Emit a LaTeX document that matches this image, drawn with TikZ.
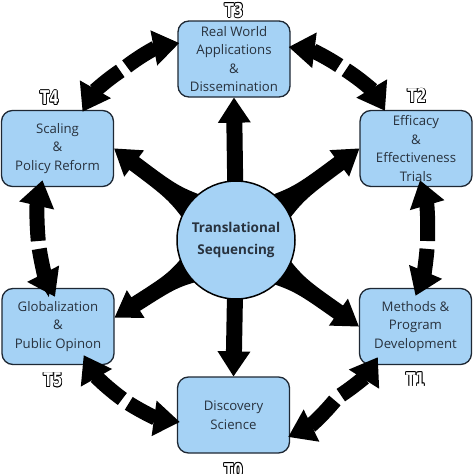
\documentclass[tikz,border=0pt]{standalone}
\usepackage{fontspec}
\setmainfont{Open Sans}
\newfontfamily\tfont{DejaVu Sans}[FakeStretch=0.72]
\usetikzlibrary{arrows.meta,calc}
\pgfdeclarelayer{bg}
\pgfsetlayers{bg,main}
\definecolor{boxblue}{RGB}{165,210,245}
\definecolor{txt}{RGB}{40,50,62}
\definecolor{edge}{RGB}{30,40,52}
\newcommand\olt[1]{{\tfont\bfseries\setbox0\hbox{#1}%
 \rlap{\color{black}\kern-.8pt\copy0}%
 \rlap{\color{black}\kern.8pt\copy0}%
 \rlap{\color{black}\raise.8pt\copy0}%
 \rlap{\color{black}\lower.8pt\copy0}%
 \rlap{\color{black}\kern-.6pt\raise.6pt\copy0}%
 \rlap{\color{black}\kern.6pt\raise.6pt\copy0}%
 \rlap{\color{black}\kern-.6pt\lower.6pt\copy0}%
 \rlap{\color{black}\kern.6pt\lower.6pt\copy0}%
 \color{white}\copy0}}
\newcommand\spoke[3]{%
 \coordinate (sS) at ($(C)!#3!(#1)$);
 \coordinate (sH) at ($(#1)!25pt!(C)$);
 \coordinate (sM) at ($(sS)!0.45!(sH)$);
 \fill[black] ($(sS)!#2!90:(#1)$) .. controls ($(sM)!8pt!90:(#1)$) .. ($(sH)!8pt!90:(#1)$)
   -- ($(sH)!16.5pt!90:(#1)$) -- (#1) -- ($(sH)!16.5pt!-90:(#1)$) -- ($(sH)!8pt!-90:(#1)$)
   .. controls ($(sM)!8pt!-90:(#1)$) .. ($(sS)!#2!-90:(#1)$) -- cycle;}
\begin{document}
\begin{tikzpicture}[x=1pt,y=1pt,
  box/.style={draw=edge, line width=1.3pt, fill=boxblue, rounded corners=11pt,
    minimum width=112pt, minimum height=76pt, inner sep=0pt, align=center,
    text=txt, font=\fontsize{13.2}{18.5}\selectfont},
  hub/.style={circle, draw=black, line width=1.5pt, fill=boxblue, minimum size=118pt,
    inner sep=0pt, align=center, text=txt, font=\bfseries\fontsize{13.5}{22}\selectfont},
  ring/.style={line width=15pt, -{Triangle[width=34pt,length=26pt]}},
  tl/.style={inner sep=0pt, font=\fontsize{19}{19}\selectfont}]
\useasboundingbox (0,0) rectangle (474,-474);
\begin{pgfonlayer}{bg}
\fill[white] (0,0) rectangle (474,-474);
\end{pgfonlayer}
\node[hub] (C) at (236,-240) {Translational\\Sequencing};
\node[box] (t3) at (234,-59) {Real World\\Applications\\\&\\Dissemination};
\node[box] (t2) at (416,-148.5) {Efficacy\\\&\\Effectiveness\\Trials};
\node[box] (t1) at (415.5,-326.5) {Methods \&\\Program\\Development};
\node[box] (t0) at (233.5,-415) {Discovery\\Science};
\node[box] (t5) at (58,-326.5) {Globalization\\\&\\Public Opinon};
\node[box] (t4) at (57.5,-148.5) {Scaling\\\&\\Policy Reform};
% labels
\node[tl] (l3) at ($(t3.north)+(0,10)$) {\olt{T3}};
\node[tl] (l2) at ($(t2.north)+(1,14)$) {\olt{T2}};
\node[tl] (l4) at ($(t4.north)+(-8,12)$) {\olt{T4}};
\node[tl] (l1) at ($(t1.south)+(0,-14)$) {\olt{T1}};
\node[tl] (l5) at ($(t5.south)+(-5,-15)$) {\olt{T5}};
\node[tl] (l0) at ($(t0.south)+(0,-17)$) {\olt{T0}};
% spokes
\coordinate (p5) at ($(t5.east)+(0,9)$);
\begin{pgfonlayer}{bg}
\spoke{t3.south}{8pt}{40pt}
\spoke{t0.north}{8pt}{40pt}
\spoke{t2.west}{21pt}{35pt}
\spoke{t1.west}{21pt}{35pt}
\spoke{t4.east}{21pt}{35pt}
\spoke{p5}{21pt}{35pt}
\end{pgfonlayer}
% ring tips
\coordinate (a1) at ($(t3.east)+(-2,12)$);
\coordinate (b1) at ($(t2.north)+(-31,-1)$);
\coordinate (g1) at (343,-67);
\coordinate (a2) at ($(t2.south)+(4,7)$);
\coordinate (b2) at ($(t1.north)+(0,-8)$);
\coordinate (g2) at (428,-245);
\coordinate (a3) at ($(t1.south west)+(19,8)$);
\coordinate (b3) at ($(t0.east)+(-2,-22)$);
\coordinate (g3) at (338,-398);
\coordinate (a4) at ($(t0.west)+(3,-7)$);
\coordinate (b4) at ($(t5.south east)+(-31,10)$);
\coordinate (g4) at (125,-402);
\coordinate (a5) at ($(t5.north)+(-3,-9)$);
\coordinate (b5) at ($(t4.south)+(-15,7)$);
\coordinate (g5) at (38,-245);
\coordinate (a6) at ($(t4.north)+(25,-2)$);
\coordinate (b6) at ($(t3.west)+(2,16)$);
\coordinate (g6) at (123,-68);
\foreach \i/\bd in {1/13,2/9,3/12,4/12,5/9,6/13}{
  \coordinate (ga\i) at ($(g\i)!4pt!(a\i)$);
  \coordinate (gb\i) at ($(g\i)!4pt!(b\i)$);
  \draw[ring] (ga\i) to[bend right=\bd] (a\i);
  \draw[ring] (gb\i) to[bend left=\bd] (b\i);
}
\end{tikzpicture}
\end{document}
